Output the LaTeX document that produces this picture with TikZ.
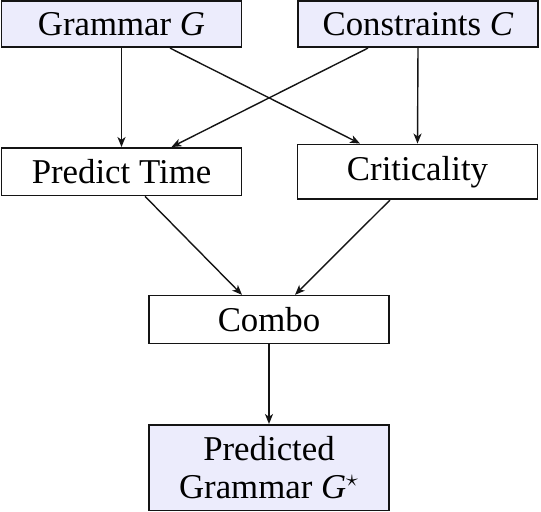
\documentclass[tikz,border=0pt]{standalone}
\usepackage{fontspec}
\setmainfont{Liberation Serif}
\usepackage{xcolor}
\usetikzlibrary{arrows.meta}
\definecolor{inputblue}{RGB}{236,236,252}
\definecolor{edgegray}{RGB}{20,20,20}
\tikzset{
  stagebox/.style={draw=edgegray, line width=0.8pt, fill=white, minimum width=120pt, align=center},
  inputbox/.style={stagebox, fill=inputblue},
  flow/.style={edgegray, line width=0.7pt, -{Stealth[length=5pt,width=4pt,inset=1.4pt]}}
}

\begin{document}
\begin{tikzpicture}[x=0.5pt,y=-0.5pt]
  \useasboundingbox (0,0) rectangle (541,512);
  \fontsize{17.4}{19}\selectfont

  % entrées
  \node[inputbox] (gram) at (121.5,24) {Grammar \textit{G}};
  \node[inputbox] (cons) at (418,24) {Constraints \textit{C}};

  % étapes
  \node[stagebox] (pred) at (121.5,171.7) {Predict Time};
  \node[stagebox] (crit) at (417.5,171.8) {Criticality};
  \node[stagebox] (combo) at (269,319.5) {Combo};

  % sortie
  \node[inputbox,anchor=north] (out) at (269,424) {Predicted\\Grammar \textit{G}$^\star$};

  % flèches
  \draw[flow] (gram.south) -- (pred.north);
  \draw[flow] ([xshift=24.25pt]gram.south) -- ([xshift=-28.75pt]crit.north);
  \draw[flow] ([xshift=-25pt]cons.south) -- ([xshift=25pt]pred.north);
  \draw[flow] (cons.south) -- (crit.north);
  \draw[flow] ([xshift=11.75pt]pred.south) -- ([xshift=-13.5pt]combo.north);
  \draw[flow] ([xshift=-13.75pt]crit.south) -- ([xshift=13pt]combo.north);
  \draw[flow] (combo.south) -- (out.north);
\end{tikzpicture}
\end{document}
